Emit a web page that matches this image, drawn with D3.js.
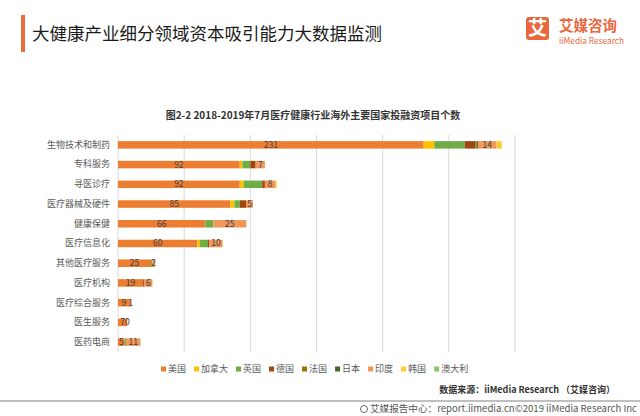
<!DOCTYPE html>
<html>
<head>
<meta charset="utf-8">
<script src="https://cdn.jsdelivr.net/npm/d3@7"></script>
<style>
  body { margin: 0; background: #fff; }
  text { font-family: "Noto Sans CJK SC", "Noto Sans", sans-serif; }
</style>
</head>
<body>
<div id="chart"></div>
<script>
//categories (top to bottom)
const categories = ["生物技术和制药", "专科服务", "寻医诊疗", "医疗器械及硬件", "健康保健", "医疗信息化",
    "其他医疗服务", "医疗机构", "医疗综合服务", "医生服务", "医药电商"];

//series names as shown in legend
const countries = ["美国", "加拿大", "英国", "德国", "法国", "日本", "印度", "韩国", "澳大利"];

//values per country, same order as categories
const usa       = [231, 92, 92, 85, 66, 60, 25, 19, 9, 7, 5];
const canada    = [8, 2, 3, 3, 0, 2, 0, 0, 0, 0, 0];
const uk        = [23, 6, 14, 4, 6, 6, 1, 0, 0, 0, 1];
const germany   = [8, 4, 2, 5, 0, 1, 0, 1, 0, 0, 0];
const france    = [1, 0, 0, 0, 0, 0, 0, 0, 0, 0, 0];
const japan     = [1, 0, 0, 0, 0, 0, 0, 0, 0, 0, 0];
const india     = [14, 7, 8, 5, 25, 10, 2, 6, 1, 0, 11];
const korea     = [4, 0, 1, 0, 0, 0, 0, 0, 0, 0, 0];
const australia = [0, 0, 0, 0, 0, 0, 0, 0, 0, 0, 0];

const xTicks = [0, 50, 100, 150, 200, 250, 300];

const colors = ["#ED7D31", "#FFC000", "#70AD47", "#9E480E", "#997300", "#43682B", "#F1975A", "#FFCD33", "#8CC168"];

//which series get a data label
const labeled = ["美国", "印度"];

//build table rows for the stack
const seriesValues = [usa, canada, uk, germany, france, japan, india, korea, australia];
const table = categories.map(function(c, i) {
    let row = { cat: c };
    countries.forEach(function(k, j) { row[k] = seriesValues[j][i]; });
    return row;
});

var svg = d3.select("#chart").append("svg")
    .attr("width", 640)
    .attr("height", 416);

//page header
svg.append("rect")
    .attr("x", 21).attr("y", 15)
    .attr("width", 4).attr("height", 37)
    .attr("fill", "#EC6A3C");

svg.append("text")
    .attr("x", 32).attr("y", 40)
    .attr("font-size", "17.5px")
    .attr("fill", "#1a1a1a")
    .text("大健康产业细分领域资本吸引能力大数据监测");

//logo
svg.append("rect")
    .attr("x", 526).attr("y", 17)
    .attr("width", 23).attr("height", 23)
    .attr("rx", 3)
    .attr("fill", "#E8673D");
svg.append("text")
    .attr("x", 537.5).attr("y", 35)
    .attr("text-anchor", "middle")
    .attr("font-size", "19px")
    .attr("font-weight", "bold")
    .attr("fill", "#fff")
    .text("艾");
svg.append("text")
    .attr("x", 559).attr("y", 31)
    .attr("font-size", "14.5px")
    .attr("font-weight", "bold")
    .attr("fill", "#E8673D")
    .text("艾媒咨询");
svg.append("text")
    .attr("x", 559).attr("y", 44)
    .attr("font-size", "8.3px")
    .attr("fill", "#E8673D")
    .text("iiMedia Research");

//chart title
svg.append("text")
    .attr("x", 313).attr("y", 119)
    .attr("text-anchor", "middle")
    .attr("font-size", "10px")
    .attr("font-weight", "bold")
    .attr("fill", "#333")
    .text("图2-2 2018-2019年7月医疗健康行业海外主要国家投融资项目个数");

var x = d3.scaleLinear()
    .domain([0, 300])
    .range([118, 515]);

var y = d3.scaleBand()
    .domain(categories)
    .range([135, 352])
    .paddingInner(0.62)
    .paddingOuter(0.31);

//vertical gridlines
svg.append("g")
    .selectAll("line")
    .data(xTicks)
    .enter()
    .append("line")
        .attr("x1", d => x(d)).attr("x2", d => x(d))
        .attr("y1", 135).attr("y2", 352)
        .attr("stroke", "#D9D9D9")
        .attr("stroke-width", 1);

//category axis
var yAxis = svg.append("g")
    .attr("transform", "translate(118,0)")
    .call(d3.axisLeft(y).tickSize(0).tickPadding(8));
yAxis.select(".domain").remove();
yAxis.selectAll("text")
    .attr("font-size", "9px")
    .attr("fill", "#595959")
    .style("font-family", "\"Noto Sans CJK SC\", sans-serif");

//stacked bars
var stack = d3.stack().keys(countries);
var layers = stack(table);

var groups = svg.append("g")
    .selectAll("g")
    .data(layers)
    .enter()
    .append("g")
    .attr("fill", (d, i) => colors[i]);

groups.selectAll("rect")
    .data(d => d)
    .enter()
    .append("rect")
        .attr("x", d => x(d[0]))
        .attr("y", d => y(d.data.cat))
        .attr("width", d => x(d[1]) - x(d[0]))
        .attr("height", y.bandwidth());

//data labels for USA and India
layers.filter(l => labeled.includes(l.key)).forEach(function(l) {
    svg.append("g")
        .selectAll("text")
        .data(l)
        .enter()
        .append("text")
            .attr("x", d => (x(d[0]) + x(d[1])) / 2)
            .attr("y", d => y(d.data.cat) + y.bandwidth() / 2)
            .attr("dy", "0.35em")
            .attr("text-anchor", "middle")
            .attr("font-size", "8.5px")
            .attr("fill", "#404040")
            .text(d => d[1] - d[0]);
});

//legend - items laid out one after another by label width
var legend = svg.append("g");
var lx = 161;
countries.forEach(function(name, i) {
    var item = legend.append("g")
        .attr("transform", "translate(" + lx + ",369)");
    item.append("rect")
        .attr("x", 0).attr("y", -2.5)
        .attr("width", 5).attr("height", 5)
        .attr("fill", colors[i]);
    var t = item.append("text")
        .attr("x", 7).attr("y", 0)
        .attr("dy", "0.35em")
        .attr("font-size", "9px")
        .attr("fill", "#595959")
        .text(name);
    lx += 15 + t.node().getComputedTextLength();
});

//source note
svg.append("text")
    .attr("x", 615).attr("y", 393)
    .attr("text-anchor", "end")
    .attr("font-size", "9px")
    .attr("font-weight", "bold")
    .attr("fill", "#333")
    .text("数据来源：iiMedia Research （艾媒咨询）");

//footer line and text
svg.append("line")
    .attr("x1", 0).attr("x2", 640)
    .attr("y1", 401).attr("y2", 401)
    .attr("stroke", "#AAAAAA")
    .attr("stroke-width", 1.5);

svg.append("circle")
    .attr("cx", 364).attr("cy", 409)
    .attr("r", 3.5)
    .attr("fill", "none")
    .attr("stroke", "#666")
    .attr("stroke-width", 1);
svg.append("text")
    .attr("x", 370).attr("y", 412)
    .attr("font-size", "9.6px")
    .attr("fill", "#555")
    .text("艾媒报告中心：report.iimedia.cn©2019 iiMedia Research Inc");
</script>
</body>
</html>
